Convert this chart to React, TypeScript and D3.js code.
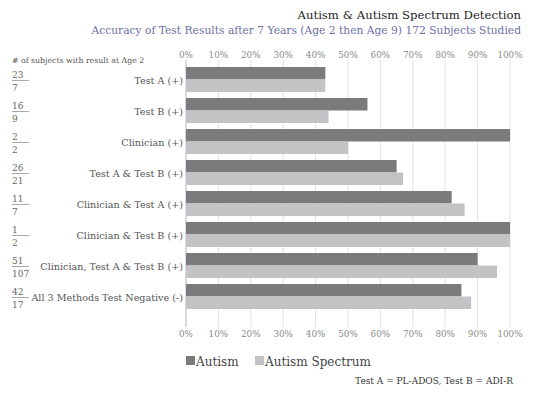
import { useEffect, useRef } from 'react'
import * as d3 from 'd3'

const categories = [
  'Test A (+)',
  'Test B (+)',
  'Clinician (+)',
  'Test A & Test B (+)',
  'Clinician & Test A (+)',
  'Clinician & Test B (+)',
  'Clinician, Test A & Test B (+)',
  'All 3 Methods Test Negative (-)',
]
const autism = [43, 56, 100, 65, 82, 100, 90, 85]
const spectrum = [43, 44, 50, 67, 86, 100, 96, 88]
const subjectsTop = [23, 16, 2, 26, 11, 1, 51, 42]
const subjectsBottom = [7, 9, 2, 21, 7, 2, 107, 17]
const ticks = [0, 10, 20, 30, 40, 50, 60, 70, 80, 90, 100]

const DARK = '#7b7b7d'
const LIGHT = '#c3c3c5'
const FONT = 'DejaVu Serif, serif'

export default function App() {
  const svgRef = useRef<SVGSVGElement>(null)

  useEffect(() => {
    const svg = d3.select(svgRef.current)
    svg.selectAll('*').remove()
    svg.attr('font-family', FONT)

    const x = d3.scaleLinear().domain([0, 100]).range([186, 510])
    const y = d3.scaleBand<string>()
      .domain(categories)
      .range([64, 312])
      .paddingInner(6 / 31)
      .paddingOuter(3 / 31)
    const bh = y.bandwidth() / 2

    // titulo
    svg.append('text')
      .attr('x', 521).attr('y', 19)
      .attr('text-anchor', 'end')
      .attr('font-size', 11.7)
      .attr('fill', '#1e1e1e')
      .text('Autism & Autism Spectrum Detection')
    svg.append('text')
      .attr('x', 521).attr('y', 34)
      .attr('text-anchor', 'end')
      .attr('font-size', 10.7)
      .attr('fill', '#6b6fa6')
      .text('Accuracy of Test Results after 7 Years (Age 2 then Age 9) 172 Subjects Studied')

    // grade
    svg.append('g')
      .selectAll('line')
      .data(ticks.slice(1))
      .join('line')
      .attr('x1', d => x(d)).attr('x2', d => x(d))
      .attr('y1', 60).attr('y2', 327)
      .attr('stroke', '#e2e2e2')

    svg.append('line')
      .attr('x1', x(0)).attr('x2', x(0))
      .attr('y1', 60).attr('y2', 327)
      .attr('stroke', '#b5b5b5')

    const tickText = (yy: number) =>
      svg.append('g')
        .selectAll('text')
        .data(ticks)
        .join('text')
        .attr('x', d => x(d))
        .attr('y', yy)
        .attr('text-anchor', 'middle')
        .attr('font-size', 8.8)
        .attr('fill', '#8a8a8a')
        .text(d => d + '%')
    tickText(58)
    tickText(337)

    // barras
    const rows = svg.append('g')
      .selectAll('g')
      .data(categories)
      .join('g')
      .attr('transform', d => `translate(0,${y(d)})`)

    rows.append('rect')
      .attr('x', x(0))
      .attr('y', 0)
      .attr('width', (d, i) => x(autism[i]) - x(0))
      .attr('height', bh)
      .attr('fill', DARK)
    rows.append('rect')
      .attr('x', x(0))
      .attr('y', bh)
      .attr('width', (d, i) => x(spectrum[i]) - x(0))
      .attr('height', bh)
      .attr('fill', LIGHT)

    // rotulos
    rows.append('text')
      .attr('x', 183)
      .attr('y', bh + 4)
      .attr('text-anchor', 'end')
      .attr('font-size', 9.6)
      .attr('fill', '#555')
      .text(d => d)

    rows.append('text')
      .attr('x', 12)
      .attr('y', bh - 1.5)
      .attr('font-size', 9)
      .attr('fill', '#666')
      .text((d, i) => subjectsTop[i])
    rows.append('line')
      .attr('x1', 12).attr('x2', 29)
      .attr('y1', bh + 1).attr('y2', bh + 1)
      .attr('stroke', '#aaa')
    rows.append('text')
      .attr('x', 12)
      .attr('y', bh + 11)
      .attr('font-size', 9)
      .attr('fill', '#666')
      .text((d, i) => subjectsBottom[i])

    svg.append('text')
      .attr('x', 12).attr('y', 63)
      .attr('font-size', 7.8)
      .attr('fill', '#555')
      .text('# of subjects with result at Age 2')

    // legenda
    const legend = [
      { label: 'Autism', color: DARK, x: 186 },
      { label: 'Autism Spectrum', color: LIGHT, x: 255 },
    ]
    const lg = svg.append('g')
      .selectAll('g')
      .data(legend)
      .join('g')
      .attr('transform', d => `translate(${d.x},356)`)
    lg.append('rect')
      .attr('width', 9).attr('height', 9)
      .attr('fill', d => d.color)
    lg.append('text')
      .attr('x', 10).attr('y', 9.5)
      .attr('font-size', 12)
      .attr('fill', '#444')
      .text(d => d.label)

    svg.append('text')
      .attr('x', 513).attr('y', 384)
      .attr('text-anchor', 'end')
      .attr('font-size', 9)
      .attr('fill', '#333')
      .text('Test A = PL-ADOS, Test B = ADI-R')
  }, [])

  return (
    <svg ref={svgRef} width={536} height={393}
      style={{ position: 'absolute', left: 0, top: 0, background: '#fff' }} />
  )
}
